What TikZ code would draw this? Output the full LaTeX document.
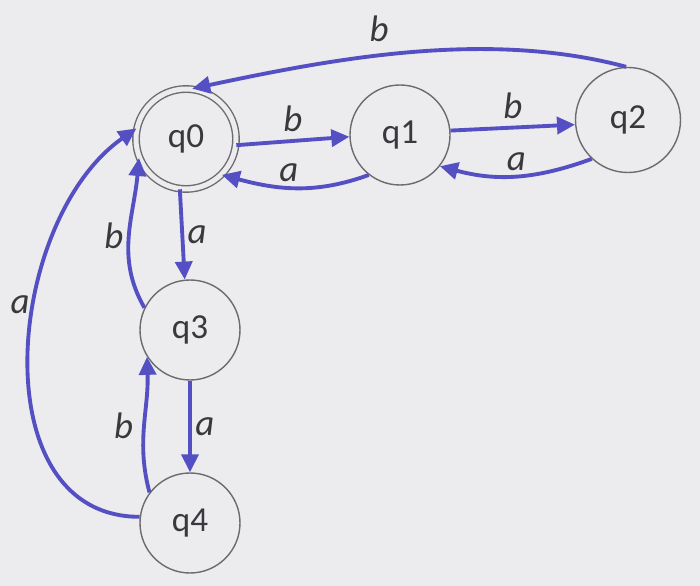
\documentclass[tikz,border=0pt]{standalone}
\usepackage{fontspec}
\setmainfont{Carlito}
\usetikzlibrary{arrows.meta,positioning,calc}
\definecolor{edgeblue}{RGB}{84,80,196}
\definecolor{ringgray}{RGB}{108,108,112}
\definecolor{inkgray}{RGB}{58,56,60}
\definecolor{paper}{RGB}{236,236,238}

\begin{document}
\begin{tikzpicture}
[state/.style={draw=ringgray,line width=.8pt,shape=circle,minimum
    size=2cm,inner sep=0pt,text=inkgray,font=\fontsize{20}{22}\selectfont},
    acc/.style={state,double=paper,double distance=1mm,line width=.8pt},
    tr/.style={-{Triangle[length=3.6mm,width=3.4mm]},draw=edgeblue,line width=2.2pt},
    lab/.style={text=inkgray,font=\fontsize{21}{22}\selectfont\itshape,inner sep=2pt}]
%%%%%%%%%%
\fill[paper] (0,0) rectangle (14,11.72);
\useasboundingbox (0,0) rectangle (14,11.72);
%% states
\node (q0) [acc] at (3.72,8.94) {q0};
\node (q1) [state] at (8,9.02) {q1};
\node (q2) [state,minimum size=2.1cm] at (12.56,9.32) {q2};
\node (q3) [state] at (3.8,5.12) {q3};
\node (q4) [state] at (3.8,1.26) {q4};
%% top row
\draw[tr] (q0.-7) -- node[lab,above=2pt]{b} (q1.182);
\draw[tr] (q1.5) -- node[lab,above=2pt]{b} (q2.185);
\draw[tr] (q1.-128) to[out=200,in=-15] node[lab,above,pos=.55]{a} (q0.-45);
\draw[tr] (q2.-133) to[out=200,in=-15] node[lab,above,pos=.5]{a} (q1.-38);
\draw[tr] (q2.92) to[out=165,in=12,looseness=.85] node[lab,above=5pt,pos=.57]{b} (q0.83);
%% left column
\draw[tr] (q0.263) -- node[lab,right]{a} (q3.96);
\draw[tr] (q3.-90) -- node[lab,right]{a} (q4.90);
\draw[tr] (q3.154) to[out=120,in=-95] node[lab,left]{b} (q0.202);
\draw[tr] (q4.143) to[out=105,in=-88] node[lab,left=3pt]{b} (q3.212);
\draw[tr] (q4.173) to[out=180,in=-145,looseness=1.05] node[lab,left,pos=.6]{a} (q0.168);
\end{tikzpicture}
\end{document}
